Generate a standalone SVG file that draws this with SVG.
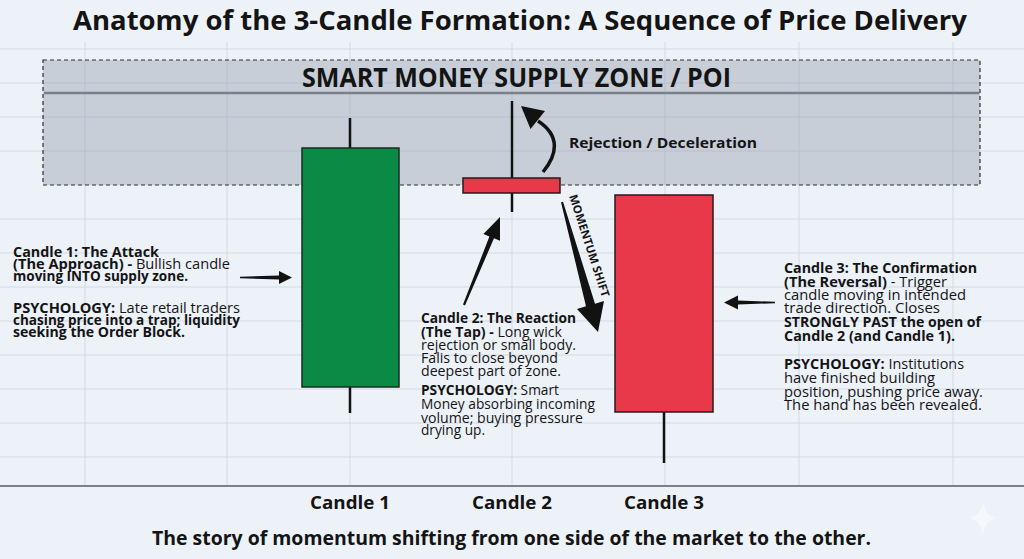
<svg xmlns="http://www.w3.org/2000/svg" width="1024" height="559" viewBox="0 0 1024 559">
<style>
text{font-family:"Open Sans","Noto Sans","Liberation Sans",sans-serif;fill:#141414}
.b{font-weight:700}
.r{font-weight:400}
.grid line{stroke:#d3d9e3;stroke-width:1}
.body{font-size:14px}
.wick{stroke:#121212;stroke-width:2.5}
.arrow{fill:#121212}
</style>
<rect x="0" y="0" width="1024" height="559" fill="#edf2f9"/>
<g id="grid" class="grid">
<line x1="0" y1="49" x2="1024" y2="49"/>
<line x1="0" y1="83" x2="1024" y2="83"/>
<line x1="0" y1="117" x2="1024" y2="117"/>
<line x1="0" y1="151" x2="1024" y2="151"/>
<line x1="0" y1="219" x2="1024" y2="219"/>
<line x1="0" y1="253" x2="1024" y2="253"/>
<line x1="0" y1="287" x2="1024" y2="287"/>
<line x1="0" y1="321" x2="1024" y2="321"/>
<line x1="0" y1="355" x2="1024" y2="355"/>
<line x1="0" y1="389" x2="1024" y2="389"/>
<line x1="0" y1="423" x2="1024" y2="423"/>
<line x1="0" y1="457" x2="1024" y2="457"/>
<line x1="85" y1="42" x2="85" y2="486"/>
<line x1="227" y1="42" x2="227" y2="486"/>
<line x1="350" y1="42" x2="350" y2="486"/>
<line x1="512" y1="42" x2="512" y2="486"/>
<line x1="665" y1="42" x2="665" y2="486"/>
<line x1="799" y1="42" x2="799" y2="486"/>
<line x1="953" y1="42" x2="953" y2="486"/>
</g>
<line id="axis" x1="0" y1="486" x2="1024" y2="486" stroke="#7b818b" stroke-width="2"/>
<text id="title" class="b" x="73" y="30" font-size="26" textLength="894" lengthAdjust="spacingAndGlyphs">Anatomy of the 3-Candle Formation: A Sequence of Price Delivery</text>
<g id="zone">
<rect x="43" y="60" width="937" height="125" fill="#9aa2b0" fill-opacity="0.45" stroke="#2e2e2e" stroke-width="1.2" stroke-dasharray="4 3"/>
<line x1="44" y1="93" x2="979" y2="93" stroke="#7a808a" stroke-width="2.5"/>
<text class="b" x="302" y="86.5" font-size="26" textLength="429" lengthAdjust="spacingAndGlyphs">SMART MONEY SUPPLY ZONE / POI</text>
</g>
<g id="candle1">
<line class="wick" x1="350" y1="118" x2="350" y2="413"/>
<rect x="302" y="148" width="97" height="239" fill="#0b8a45" stroke="#1b2a1f" stroke-width="1.5"/>
</g>
<g id="candle2">
<line class="wick" x1="512" y1="101" x2="512" y2="212"/>
<rect x="463" y="178" width="97" height="15" fill="#e8394a" stroke="#2a1a1a" stroke-width="1.5"/>
</g>
<g id="candle3">
<line class="wick" x1="664" y1="411" x2="664" y2="463"/>
<rect x="615" y="195" width="98" height="217" fill="#e8394a" stroke="#2a1a1a" stroke-width="1.5"/>
</g>
<g id="connectors">
<polygon class="arrow" points="240,276.8 279,275.5 279,271 292,277.5 279,284 279,279.5 240,278.2"/>
<polygon class="arrow" points="775,301.8 738,300.5 738,295.5 724,302.5 738,309.5 738,304.5 775,303.2"/>
<polygon class="arrow" points="463,304.6 489.4,236.5 483.4,234 500,217 500,240.8 494,238.3 465,305.4"/>
<polygon class="arrow" points="561,202.3 586,306.3 577,309 598,332 604,301 595,303.7 563,201.7"/>
<path d="M543,172 C557,155 561,136 538,121" fill="none" stroke="#121212" stroke-width="3.5"/>
<polygon class="arrow" points="545,111 521,106 530.5,129"/>
</g>
<g id="label-rejection">
<text class="b" x="569" y="148" font-size="15" textLength="188" lengthAdjust="spacingAndGlyphs">Rejection / Deceleration</text>
</g>
<g id="label-momentum">
<text class="b" font-size="11.5" transform="translate(569,196) rotate(72)" textLength="107" lengthAdjust="spacingAndGlyphs">MOMENTUM SHIFT</text>
</g>
<g id="note-candle1" class="body">
<text class="b" x="13" y="257" textLength="146" lengthAdjust="spacingAndGlyphs">Candle 1: The Attack</text>
<text x="13" y="269" textLength="217" lengthAdjust="spacingAndGlyphs"><tspan class="b">(The Approach) - </tspan><tspan class="r">Bullish candle</tspan></text>
<text class="b" x="13" y="281" textLength="175" lengthAdjust="spacingAndGlyphs">moving INTO supply zone.</text>
<text x="13" y="313" textLength="227" lengthAdjust="spacingAndGlyphs"><tspan class="b">PSYCHOLOGY:</tspan><tspan class="r"> Late retail traders</tspan></text>
<text class="b" x="13" y="325" textLength="227" lengthAdjust="spacingAndGlyphs">chasing price into a trap; liquidity</text>
<text class="b" x="13" y="337" textLength="172" lengthAdjust="spacingAndGlyphs">seeking the Order Block.</text>
</g>
<g id="note-candle2" class="body">
<text class="b" x="421" y="323" textLength="155" lengthAdjust="spacingAndGlyphs">Candle 2: The Reaction</text>
<text x="421" y="336.5" textLength="141" lengthAdjust="spacingAndGlyphs"><tspan class="b">(The Tap) - </tspan><tspan class="r">Long wick</tspan></text>
<text class="r" x="421" y="349.5" textLength="155" lengthAdjust="spacingAndGlyphs">rejection or small body.</text>
<text class="r" x="421" y="363" textLength="137" lengthAdjust="spacingAndGlyphs">Falis to close beyond</text>
<text class="r" x="421" y="376" textLength="140" lengthAdjust="spacingAndGlyphs">deepest part of zone.</text>
<text x="421" y="395" textLength="138" lengthAdjust="spacingAndGlyphs"><tspan class="b">PSYCHOLOGY:</tspan><tspan class="r"> Smart</tspan></text>
<text class="r" x="421" y="409" textLength="174" lengthAdjust="spacingAndGlyphs">Money absorbing incoming</text>
<text class="r" x="421" y="422.5" textLength="162" lengthAdjust="spacingAndGlyphs">volume; buying pressure</text>
<text class="r" x="421" y="435" textLength="64" lengthAdjust="spacingAndGlyphs">drying up.</text>
</g>
<g id="note-candle3" class="body">
<text class="b" x="784" y="273" textLength="193" lengthAdjust="spacingAndGlyphs">Candle 3: The Confirmation</text>
<text x="784" y="286.5" textLength="163" lengthAdjust="spacingAndGlyphs"><tspan class="b">(The Reversal)</tspan><tspan class="r"> - Trigger</tspan></text>
<text class="r" x="784" y="299.5" textLength="182" lengthAdjust="spacingAndGlyphs">candle moving in intended</text>
<text class="r" x="784" y="313" textLength="156" lengthAdjust="spacingAndGlyphs">trade direction. Closes</text>
<text class="b" x="784" y="326.5" textLength="197" lengthAdjust="spacingAndGlyphs">STRONGLY PAST the open of</text>
<text class="b" x="784" y="340.5" textLength="171" lengthAdjust="spacingAndGlyphs">Candle 2 (and Candle 1).</text>
<text x="784" y="369" textLength="180" lengthAdjust="spacingAndGlyphs"><tspan class="b">PSYCHOLOGY:</tspan><tspan class="r"> Institutions</tspan></text>
<text class="r" x="784" y="382.5" textLength="151" lengthAdjust="spacingAndGlyphs">have finished building</text>
<text class="r" x="784" y="396.5" textLength="199" lengthAdjust="spacingAndGlyphs">position, pushing price away.</text>
<text class="r" x="784" y="409.5" textLength="198" lengthAdjust="spacingAndGlyphs">The hand has been revealed.</text>
</g>
<g id="axis-labels">
<text class="b" x="310" y="509" font-size="18" textLength="80" lengthAdjust="spacingAndGlyphs">Candle 1</text>
<text class="b" x="472" y="509" font-size="18" textLength="80" lengthAdjust="spacingAndGlyphs">Candle 2</text>
<text class="b" x="624" y="509" font-size="18" textLength="80" lengthAdjust="spacingAndGlyphs">Candle 3</text>
<text class="b" x="152" y="545" font-size="19" textLength="719" lengthAdjust="spacingAndGlyphs">The story of momentum shifting from one side of the market to the other.</text>
</g>
<path id="sparkle" d="M983,502 Q985,516 997,518 Q985,520 983,536 Q981,520 969,518 Q981,516 983,502 Z" fill="#ffffff" fill-opacity="0.45"/>
</svg>
